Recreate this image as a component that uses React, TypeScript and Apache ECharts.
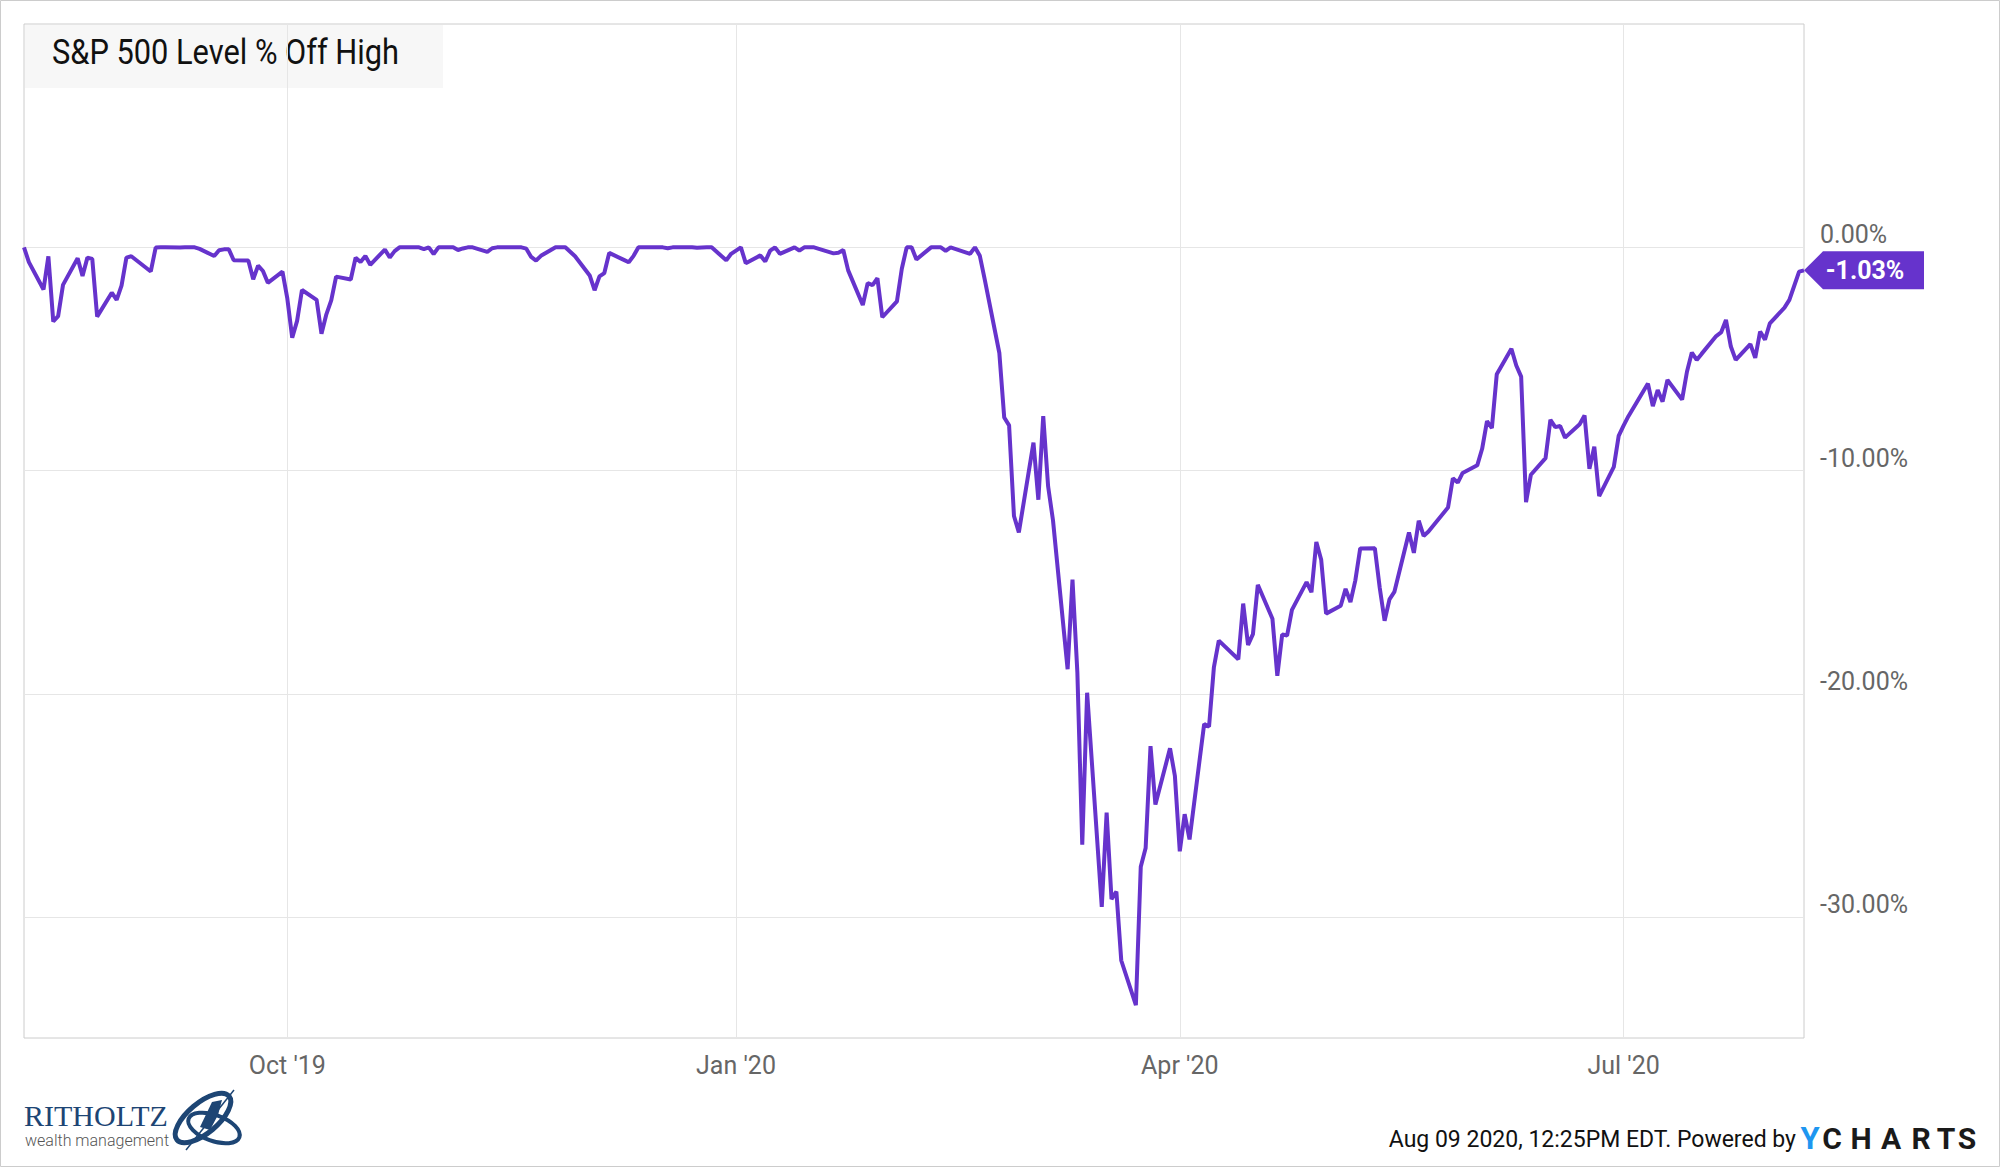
import React, { useEffect, useRef } from 'react';
import * as echarts from 'echarts';

// Trading days shown (Aug 8 2019 – Aug 7 2020)
const tradingDates = [
  '2019-08-08','2019-08-09','2019-08-12','2019-08-13','2019-08-14','2019-08-15','2019-08-16','2019-08-19','2019-08-20','2019-08-21','2019-08-22','2019-08-23','2019-08-26','2019-08-27','2019-08-28','2019-08-29','2019-08-30',
  '2019-09-03','2019-09-04','2019-09-05','2019-09-06','2019-09-09','2019-09-10','2019-09-11','2019-09-12','2019-09-13','2019-09-16','2019-09-17','2019-09-18','2019-09-19','2019-09-20','2019-09-23','2019-09-24','2019-09-25','2019-09-26','2019-09-27','2019-09-30',
  '2019-10-01','2019-10-02','2019-10-03','2019-10-04','2019-10-07','2019-10-08','2019-10-09','2019-10-10','2019-10-11','2019-10-14','2019-10-15','2019-10-16','2019-10-17','2019-10-18','2019-10-21','2019-10-22','2019-10-23','2019-10-24','2019-10-25','2019-10-28','2019-10-29','2019-10-30','2019-10-31',
  '2019-11-01','2019-11-04','2019-11-05','2019-11-06','2019-11-07','2019-11-08','2019-11-11','2019-11-12','2019-11-13','2019-11-14','2019-11-15','2019-11-18','2019-11-19','2019-11-20','2019-11-21','2019-11-22','2019-11-25','2019-11-26','2019-11-27','2019-11-29',
  '2019-12-02','2019-12-03','2019-12-04','2019-12-05','2019-12-06','2019-12-09','2019-12-10','2019-12-11','2019-12-12','2019-12-13','2019-12-16','2019-12-17','2019-12-18','2019-12-19','2019-12-20','2019-12-23','2019-12-24','2019-12-26','2019-12-27','2019-12-30','2019-12-31',
  '2020-01-02','2020-01-03','2020-01-06','2020-01-07','2020-01-08','2020-01-09','2020-01-10','2020-01-13','2020-01-14','2020-01-15','2020-01-16','2020-01-17','2020-01-21','2020-01-22','2020-01-23','2020-01-24','2020-01-27','2020-01-28','2020-01-29','2020-01-30','2020-01-31',
  '2020-02-03','2020-02-04','2020-02-05','2020-02-06','2020-02-07','2020-02-10','2020-02-11','2020-02-12','2020-02-13','2020-02-14','2020-02-18','2020-02-19','2020-02-20','2020-02-21','2020-02-24','2020-02-25','2020-02-26','2020-02-27','2020-02-28',
  '2020-03-02','2020-03-03','2020-03-04','2020-03-05','2020-03-06','2020-03-09','2020-03-10','2020-03-11','2020-03-12','2020-03-13','2020-03-16','2020-03-17','2020-03-18','2020-03-19','2020-03-20','2020-03-23','2020-03-24','2020-03-25','2020-03-26','2020-03-27','2020-03-30','2020-03-31',
  '2020-04-01','2020-04-02','2020-04-03','2020-04-06','2020-04-07','2020-04-08','2020-04-09','2020-04-13','2020-04-14','2020-04-15','2020-04-16','2020-04-17','2020-04-20','2020-04-21','2020-04-22','2020-04-23','2020-04-24','2020-04-27','2020-04-28','2020-04-29','2020-04-30',
  '2020-05-01','2020-05-04','2020-05-05','2020-05-06','2020-05-07','2020-05-08','2020-05-11','2020-05-12','2020-05-13','2020-05-14','2020-05-15','2020-05-18','2020-05-19','2020-05-20','2020-05-21','2020-05-22','2020-05-26','2020-05-27','2020-05-28','2020-05-29',
  '2020-06-01','2020-06-02','2020-06-03','2020-06-04','2020-06-05','2020-06-08','2020-06-09','2020-06-10','2020-06-11','2020-06-12','2020-06-15','2020-06-16','2020-06-17','2020-06-18','2020-06-19','2020-06-22','2020-06-23','2020-06-24','2020-06-25','2020-06-26','2020-06-29','2020-06-30',
  '2020-07-01','2020-07-02','2020-07-06','2020-07-07','2020-07-08','2020-07-09','2020-07-10','2020-07-13','2020-07-14','2020-07-15','2020-07-16','2020-07-17','2020-07-20','2020-07-21','2020-07-22','2020-07-23','2020-07-24','2020-07-27','2020-07-28','2020-07-29','2020-07-30','2020-07-31',
  '2020-08-03','2020-08-04','2020-08-05','2020-08-06','2020-08-07',
];

// S&P 500 level, % off high (same order as tradingDates)
const pctOffHigh = [
  0, -0.66, -1.89, -0.40, -3.32, -3.08, -1.68, -0.49, -1.28, -0.46, -0.52, -3.10, -2.03, -2.35, -1.71, -0.46, -0.40,
  -1.08, -0.01, 0, 0, -0.01, 0, 0, 0, -0.07, -0.39, -0.13, -0.09, -0.09, -0.58, -0.59, -1.43, -0.82, -1.06, -1.59, -1.09,
  -2.30, -4.05, -3.29, -1.91, -2.35, -3.87, -3.00, -2.37, -1.31, -1.44, -0.46, -0.66, -0.39, -0.78, -0.10, -0.45, -0.17, 0, 0, 0, -0.08, 0, -0.30,
  0, 0, -0.12, -0.05, 0, 0, -0.20, -0.04, 0, 0, 0, 0, -0.06, -0.43, -0.59, -0.38, 0, 0, 0, -0.40,
  -1.26, -1.92, -1.30, -1.15, -0.25, -0.56, -0.67, -0.38, 0, 0, 0, 0, -0.04, 0, 0, 0, -0.02, 0, 0, -0.58, -0.29,
  0, -0.71, -0.36, -0.63, -0.15, 0, -0.29, 0, -0.15, 0, 0, 0, -0.27, -0.24, -0.12, -1.03, -2.58, -1.60, -1.69, -1.38, -3.13,
  -2.42, -0.96, 0, 0, -0.54, 0, 0, 0, -0.16, 0, -0.29, 0, -0.38, -1.43, -4.73, -7.62, -7.97, -12.03, -12.76,
  -8.74, -11.30, -7.56, -10.70, -12.22, -18.89, -14.88, -19.04, -26.74, -19.94, -29.53, -25.31, -29.18, -28.85, -31.93, -33.93, -27.73, -26.89, -22.33, -24.95, -22.43, -23.67,
  -27.04, -25.38, -26.51, -21.34, -21.46, -18.79, -17.61, -18.44, -15.95, -17.80, -17.32, -15.11, -16.63, -19.18, -17.33, -17.38, -16.23, -14.99, -15.44, -13.19, -13.99,
  -16.40, -16.05, -15.29, -15.88, -14.91, -13.48, -13.47, -15.24, -16.72, -15.76, -15.43, -12.77, -13.68, -12.24, -12.92, -12.72, -11.65, -10.34, -10.53, -10.10,
  -9.76, -9.02, -7.78, -8.09, -5.68, -4.54, -5.29, -5.79, -11.41, -10.18, -9.44, -7.72, -8.05, -8.00, -8.52, -7.92, -7.53, -9.92, -8.93, -11.14, -9.83, -8.44,
  -7.98, -7.56, -6.10, -7.11, -6.39, -6.91, -5.94, -6.82, -5.57, -4.71, -5.04, -4.77, -3.97, -3.81, -3.25, -4.44, -5.04, -4.33, -4.95, -3.77, -4.13, -3.40,
  -2.70, -2.35, -1.72, -1.09, -1.03,
];

const xTickDates = ['2019-10-01', '2020-01-01', '2020-04-01', '2020-07-01'];
const yTickValues = [0, -10, -20, -30];
const yMin = -35.4;
const yMax = 10;

const titleText = 'S&P 500 Level % Off High';
const footerText = 'Aug 09 2020, 12:25PM EDT. Powered by';
const ychartsLetters = ['C', 'H', 'A', 'R', 'T', 'S'];
const monthNames = ['Jan', 'Feb', 'Mar', 'Apr', 'May', 'Jun', 'Jul', 'Aug', 'Sep', 'Oct', 'Nov', 'Dec'];

const toTs = (s: string) => {
  const [y, m, d] = s.split('-').map(Number);
  return new Date(y, m - 1, d).getTime();
};

const LINE_COLOR = '#6633cc';

export default function App() {
  const ref = useRef<HTMLDivElement>(null);

  useEffect(() => {
    if (!ref.current) return;
    const chart = echarts.init(ref.current, null, { renderer: 'svg' });
    const data = tradingDates.map((d, i) => [toTs(d), pctOffHigh[i]]);
    const last = data[data.length - 1];
    const xTicks = xTickDates.map(toTs);

    const letterX = [1832, 1861, 1891, 1921, 1946, 1967];

    chart.setOption({
      animation: false,
      backgroundColor: '#ffffff',
      grid: {
        left: 24,
        top: 24,
        width: 1780,
        height: 1014,
        show: true,
        borderColor: '#cccccc',
        borderWidth: 1,
        backgroundColor: 'transparent',
      },
      xAxis: {
        type: 'value',
        min: data[0][0],
        max: last[0],
        axisLine: { show: false },
        axisTick: { show: false, customValues: xTicks },
        axisLabel: {
          customValues: xTicks,
          color: '#666666',
          fontSize: 25,
          fontFamily: 'Roboto',
          margin: 15,
          formatter: (v: number) => {
            const d = new Date(v);
            return `${monthNames[d.getMonth()]} '${String(d.getFullYear()).slice(2)}`;
          },
        },
        splitLine: { show: true, lineStyle: { color: '#e6e6e6', width: 1 } },
      },
      yAxis: {
        type: 'value',
        position: 'right',
        min: yMin,
        max: yMax,
        axisLine: { show: false },
        axisTick: { show: false, customValues: yTickValues },
        axisLabel: {
          customValues: yTickValues,
          color: '#666666',
          fontSize: 25,
          fontFamily: 'Roboto',
          margin: 16,
          verticalAlign: 'bottom',
          formatter: (v: number) => `${v.toFixed(2)}%`,
        },
        splitLine: { show: true, lineStyle: { color: '#e6e6e6', width: 1 } },
      },
      series: [
        {
          type: 'line',
          data,
          showSymbol: false,
          symbol: 'none',
          lineStyle: { color: LINE_COLOR, width: 4 },
          markPoint: {
            symbol: 'path://M0,19L19,0L120,0L120,38L19,38Z',
            symbolSize: [120, 38],
            symbolOffset: [60, 0],
            symbolKeepAspect: false,
            itemStyle: { color: LINE_COLOR },
            label: {
              show: true,
              color: '#ffffff',
              fontWeight: 'bold',
              fontSize: 25,
              fontFamily: 'Roboto',
              offset: [1, 0],
              formatter: (p: any) => `${Number(p.value).toFixed(2)}%`,
            },
            data: [{ coord: [last[0], last[1]], value: last[1] }],
          },
        },
      ],
      graphic: [
        {
          type: 'rect',
          z: -10,
          shape: { x: 0.5, y: 0.5, width: 1999, height: 1166 },
          style: { fill: 'none', stroke: '#cccccc', lineWidth: 1 },
        },
        {
          type: 'rect',
          z: -10,
          shape: { x: 25, y: 25, width: 418, height: 63 },
          style: { fill: '#f7f7f7' },
        },
        {
          type: 'text',
          x: 52,
          y: 52,
          scaleX: 0.88,
          style: {
            text: titleText,
            fill: '#111111',
            font: '35px Roboto',
            verticalAlign: 'middle',
            align: 'left',
          },
        },
        // Ritholtz logo
        {
          type: 'text',
          x: 24,
          y: 1115,
          style: {
            text: 'RITHOLTZ',
            fill: '#1d4574',
            font: '30px "Liberation Serif", "DejaVu Serif", serif',
            verticalAlign: 'middle',
            align: 'left',
          },
        },
        {
          type: 'text',
          x: 25,
          y: 1140,
          style: {
            text: 'wealth management',
            fill: '#555555',
            font: '300 16px Roboto',
            verticalAlign: 'middle',
            align: 'left',
          },
        },
        {
          type: 'ellipse',
          x: 203,
          y: 1118,
          rotation: Math.PI / 4.5,
          shape: { cx: 0, cy: 0, rx: 34, ry: 15 },
          style: { fill: 'none', stroke: '#1d4574', lineWidth: 5 },
        },
        {
          type: 'ellipse',
          x: 214,
          y: 1128,
          rotation: -Math.PI / 9,
          shape: { cx: 0, cy: 0, rx: 27, ry: 13 },
          style: { fill: 'none', stroke: '#1d4574', lineWidth: 4 },
        },
        {
          type: 'line',
          shape: { x1: 186, y1: 1150, x2: 234, y2: 1090 },
          style: { stroke: '#1d4574', lineWidth: 1.5 },
        },
        {
          type: 'polygon',
          shape: { points: [[200, 1127], [212, 1102], [222, 1100], [218, 1115], [210, 1130]] },
          style: { fill: '#1d4574' },
        },
        // Footer
        {
          type: 'text',
          x: 1796,
          y: 1139,
          style: {
            text: footerText,
            fill: '#111111',
            font: '23px Roboto',
            verticalAlign: 'middle',
            align: 'right',
          },
        },
        {
          type: 'text',
          x: 1810,
          y: 1138,
          style: {
            text: 'Y',
            fill: '#1e96f0',
            font: 'bold 31px Roboto',
            verticalAlign: 'middle',
            align: 'center',
          },
        },
        ...ychartsLetters.map((ch, i) => ({
          type: 'text',
          x: letterX[i],
          y: 1138,
          style: {
            text: ch,
            fill: '#1a1a1a',
            font: 'bold 30px Roboto',
            verticalAlign: 'middle',
            align: 'center',
          },
        })),
      ],
    });

    return () => chart.dispose();
  }, []);

  return (
    <div
      ref={ref}
      style={{ position: 'absolute', left: 0, top: 0, width: 2000, height: 1167 }}
    />
  );
}
